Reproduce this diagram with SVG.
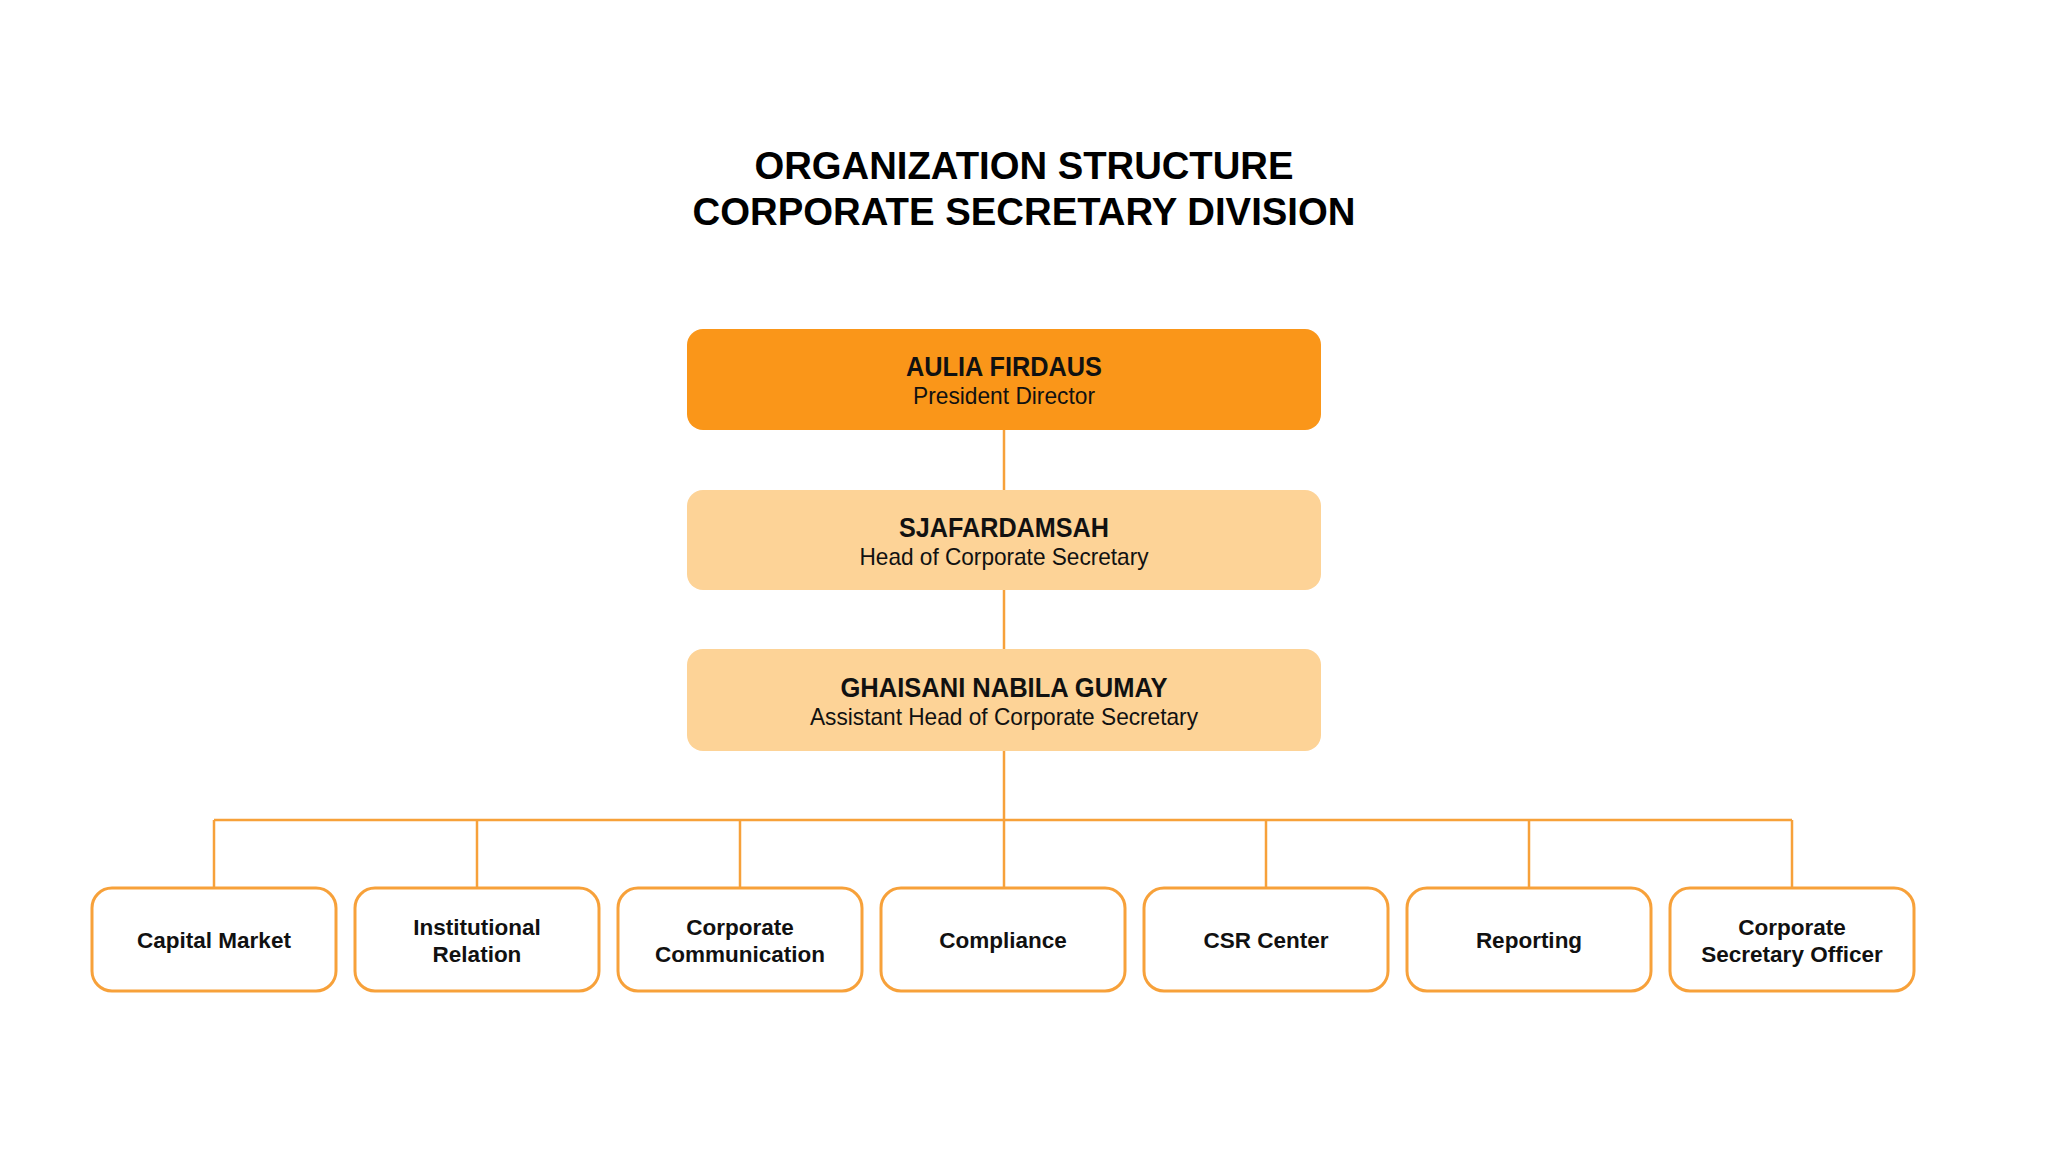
<svg xmlns="http://www.w3.org/2000/svg" width="2048" height="1152" viewBox="0 0 2048 1152">
<style>
.title{font-family:"Liberation Sans",Arial,sans-serif;font-weight:bold;font-size:39px;fill:#000;text-anchor:middle}
.name{font-family:"Liberation Sans",Arial,sans-serif;font-weight:bold;font-size:28px;fill:#111;text-anchor:middle}
.role{font-family:"Liberation Sans",Arial,sans-serif;font-size:24px;fill:#111;text-anchor:middle}
.unit{font-family:"Liberation Sans",Arial,sans-serif;font-weight:bold;font-size:22.5px;fill:#111;text-anchor:middle}
.top{fill:#FA9619}
.mid{fill:#FDD397}
.leaf{fill:#fff;stroke:#F7A13A;stroke-width:3}
.conn{stroke:#F7A13A;stroke-width:2.5;fill:none}
</style>
<rect width="2048" height="1152" fill="#fff"/>
<g id="title">
<text class="title" x="1024" y="179" textLength="539" lengthAdjust="spacingAndGlyphs">ORGANIZATION STRUCTURE</text>
<text class="title" x="1024" y="225" textLength="663" lengthAdjust="spacingAndGlyphs">CORPORATE SECRETARY DIVISION</text>
</g>
<g id="connectors">
<line class="conn" x1="1004" y1="430" x2="1004" y2="490"/>
<line class="conn" x1="1004" y1="590" x2="1004" y2="649"/>
<line class="conn" x1="1004" y1="751" x2="1004" y2="888"/>
<line class="conn" x1="214" y1="820" x2="1792" y2="820"/>
<line class="conn" x1="214" y1="820" x2="214" y2="888"/>
<line class="conn" x1="477" y1="820" x2="477" y2="888"/>
<line class="conn" x1="740" y1="820" x2="740" y2="888"/>
<line class="conn" x1="1266" y1="820" x2="1266" y2="888"/>
<line class="conn" x1="1529" y1="820" x2="1529" y2="888"/>
<line class="conn" x1="1792" y1="820" x2="1792" y2="888"/>
</g>
<g id="president">
<rect class="top" x="687" y="329" width="634" height="101" rx="16"/>
<text class="name" x="1004" y="376" textLength="196" lengthAdjust="spacingAndGlyphs">AULIA FIRDAUS</text>
<text class="role" x="1004" y="404" textLength="182" lengthAdjust="spacingAndGlyphs">President Director</text>
</g>
<g id="head">
<rect class="mid" x="687" y="490" width="634" height="100" rx="16"/>
<text class="name" x="1004" y="537" textLength="210" lengthAdjust="spacingAndGlyphs">SJAFARDAMSAH</text>
<text class="role" x="1004" y="565" textLength="289" lengthAdjust="spacingAndGlyphs">Head of Corporate Secretary</text>
</g>
<g id="assistant">
<rect class="mid" x="687" y="649" width="634" height="102" rx="16"/>
<text class="name" x="1004" y="697" textLength="327" lengthAdjust="spacingAndGlyphs">GHAISANI NABILA GUMAY</text>
<text class="role" x="1004" y="725" textLength="388" lengthAdjust="spacingAndGlyphs">Assistant Head of Corporate Secretary</text>
</g>
<g id="capital-market">
<rect class="leaf" x="92" y="888" width="244" height="103" rx="20"/>
<text class="unit" x="214" y="948">Capital Market</text>
</g>
<g id="institutional-relation">
<rect class="leaf" x="355" y="888" width="244" height="103" rx="20"/>
<text class="unit" x="477" y="935">Institutional</text>
<text class="unit" x="477" y="962">Relation</text>
</g>
<g id="corporate-communication">
<rect class="leaf" x="618" y="888" width="244" height="103" rx="20"/>
<text class="unit" x="740" y="935">Corporate</text>
<text class="unit" x="740" y="962">Communication</text>
</g>
<g id="compliance">
<rect class="leaf" x="881" y="888" width="244" height="103" rx="20"/>
<text class="unit" x="1003" y="948">Compliance</text>
</g>
<g id="csr-center">
<rect class="leaf" x="1144" y="888" width="244" height="103" rx="20"/>
<text class="unit" x="1266" y="948">CSR Center</text>
</g>
<g id="reporting">
<rect class="leaf" x="1407" y="888" width="244" height="103" rx="20"/>
<text class="unit" x="1529" y="948">Reporting</text>
</g>
<g id="corporate-secretary-officer">
<rect class="leaf" x="1670" y="888" width="244" height="103" rx="20"/>
<text class="unit" x="1792" y="935">Corporate</text>
<text class="unit" x="1792" y="962">Secretary Officer</text>
</g>
</svg>
